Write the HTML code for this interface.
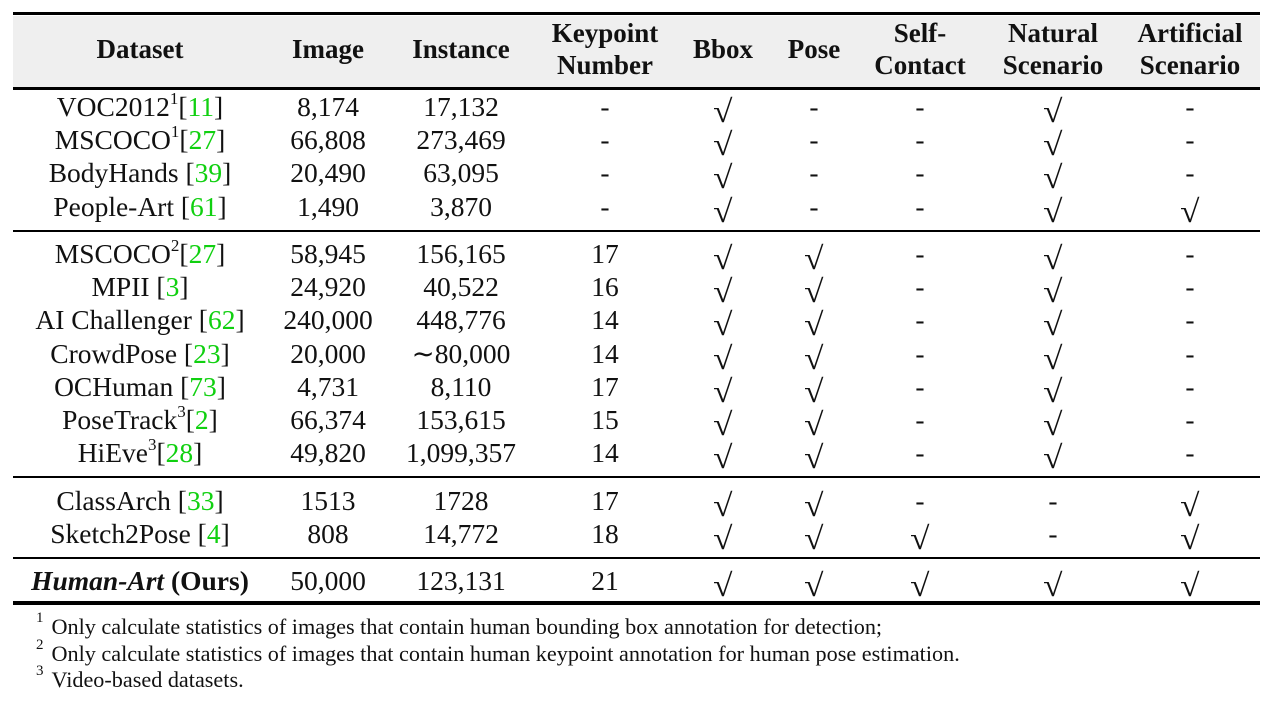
<!DOCTYPE html>
<html><head><meta charset="utf-8"><style>
body{margin:0;width:1272px;height:706px;background:#fff;position:relative;overflow:hidden;font-family:"Liberation Serif",serif;color:#111}
.r{position:absolute;left:0;width:1272px;height:34px;line-height:34px;font-size:27.5px}
.r span.c{position:absolute;width:260px;text-align:center;white-space:nowrap}
.k{position:relative;top:4px;font-size:32px;display:inline-block;transform:scaleX(1.1)}
.g{color:#10d010}
sup{font-size:17px;line-height:0;position:relative;top:-2px}
.hr{position:absolute;left:13px;width:1247px;background:#000}
.hd{position:absolute;top:16px;left:13px;width:1247px;height:71px;background:#efefef}
.h{position:absolute;font-weight:bold;font-size:27px;text-align:center;line-height:32px;width:200px}
.f{position:absolute;left:36px;font-size:22.2px;line-height:24px;white-space:nowrap}
.f sup{font-size:15px;top:-4px;margin-right:8px}
</style></head><body>
<div class="hd"></div>
<div class="hr" style="top:12px;height:3px"></div>
<div class="hr" style="top:87px;height:3px"></div>
<div class="hr" style="top:230px;height:2px"></div>
<div class="hr" style="top:476px;height:2px"></div>
<div class="hr" style="top:557px;height:2px"></div>
<div class="hr" style="top:601px;height:4px"></div>

<div class="h" style="left:40px;top:33px">Dataset</div>
<div class="h" style="left:228px;top:33px">Image</div>
<div class="h" style="left:361px;top:33px">Instance</div>
<div class="h" style="left:505px;top:17px">Keypoint<br>Number</div>
<div class="h" style="left:623px;top:33px">Bbox</div>
<div class="h" style="left:714px;top:33px">Pose</div>
<div class="h" style="left:820px;top:17px">Self-<br>Contact</div>
<div class="h" style="left:953px;top:17px">Natural<br>Scenario</div>
<div class="h" style="left:1090px;top:17px">Artificial<br>Scenario</div>

<div id="rows"></div>
<script>
const X=[140,328,461,605,723,814,920,1053,1190];
const C='<span class="k">√</span>';
const rows=[
[107,'VOC2012<sup>1</sup>[<span class="g">11</span>]','8,174','17,132','-',C,'-','-',C,'-'],
[140,'MSCOCO<sup>1</sup>[<span class="g">27</span>]','66,808','273,469','-',C,'-','-',C,'-'],
[173,'BodyHands [<span class="g">39</span>]','20,490','63,095','-',C,'-','-',C,'-'],
[207,'People-Art [<span class="g">61</span>]','1,490','3,870','-',C,'-','-',C,C],
[254,'MSCOCO<sup>2</sup>[<span class="g">27</span>]','58,945','156,165','17',C,C,'-',C,'-'],
[287,'MPII [<span class="g">3</span>]','24,920','40,522','16',C,C,'-',C,'-'],
[320,'AI Challenger [<span class="g">62</span>]','240,000','448,776','14',C,C,'-',C,'-'],
[354,'CrowdPose [<span class="g">23</span>]','20,000','∼80,000','14',C,C,'-',C,'-'],
[387,'OCHuman [<span class="g">73</span>]','4,731','8,110','17',C,C,'-',C,'-'],
[420,'PoseTrack<sup>3</sup>[<span class="g">2</span>]','66,374','153,615','15',C,C,'-',C,'-'],
[453,'HiEve<sup>3</sup>[<span class="g">28</span>]','49,820','1,099,357','14',C,C,'-',C,'-'],
[501,'ClassArch [<span class="g">33</span>]','1513','1728','17',C,C,'-','-',C],
[534,'Sketch2Pose [<span class="g">4</span>]','808','14,772','18',C,C,C,'-',C],
[581,'<b><i>Human-Art</i> (Ours)</b>','50,000','123,131','21',C,C,C,C,C]];
let h='';
for(const r of rows){h+='<div class="r" style="top:'+(r[0]-17)+'px">';
for(let i=0;i<9;i++)h+='<span class="c" style="left:'+(X[i]-130)+'px">'+r[i+1]+'</span>';
h+='</div>';}
document.getElementById('rows').innerHTML=h;
</script>
<div class="f" style="top:615px"><sup>1</sup>Only calculate statistics of images that contain human bounding box annotation for detection;</div>
<div class="f" style="top:642px"><sup>2</sup>Only calculate statistics of images that contain human keypoint annotation for human pose estimation.</div>
<div class="f" style="top:668px"><sup>3</sup>Video-based datasets.</div>
</body></html>
